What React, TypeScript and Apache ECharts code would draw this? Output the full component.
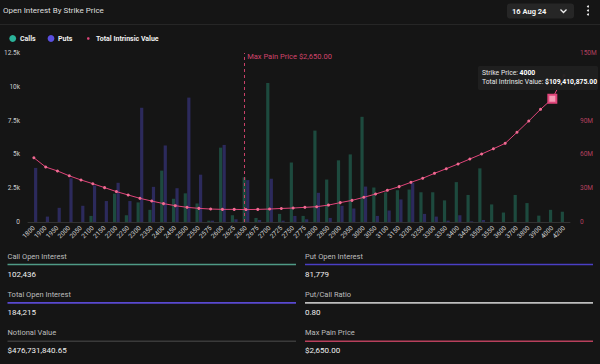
import React, { useEffect, useRef } from "react";
import * as echarts from "echarts";

const strikes = ["1800","1900","1950","2000","2050","2100","2150","2200","2250","2300","2350","2400","2450","2500","2550","2575","2600","2625","2650","2675","2700","2725","2750","2775","2800","2850","2900","2950","3000","3050","3100","3150","3200","3250","3300","3350","3400","3450","3500","3550","3600","3700","3800","3900","4000","4200"];

const callsOI = [0,0,0,0,0,450,0,2100,500,1450,900,3800,1720,2120,1370,100,5500,500,3300,300,10280,600,4400,450,6760,3140,4560,5000,7780,2550,2200,2350,2400,2200,2200,1600,2950,2000,3970,1300,700,2000,1400,470,900,760];

const putsOI = [4000,400,1050,3230,1200,2700,1550,2900,1550,8450,2600,5660,2500,9200,3500,100,5700,200,3100,150,3200,100,450,200,2160,300,1200,1000,2620,450,850,1670,2900,600,400,100,500,50,150,0,0,0,0,0,0,0];

// Total intrinsic value, in millions of USD
const intrinsicM = [57,48.8,45.3,41,37.3,34,30.5,27,24,21,18.6,16.3,14.5,13,12.1,11.5,11.2,11.2,11.0,11.2,11.5,12,12.4,13,13.6,15,17.2,19.2,21.9,24.8,28.1,31.4,35.2,38.8,43.2,47.3,51.5,55.9,60.3,65,69.8,79.6,89.6,100,109.41,130];

// right-axis tick hidden behind the tooltip in the reference
const hiddenRightTick = 120;
const maxPainStrike = "2650";
const highlightStrike = "4000";

const stats = [
  { label: "Call Open Interest", value: "102,436", color: "#4f9a86", col: 0, row: 0 },
  { label: "Put Open Interest", value: "81,779", color: "#4a3fc4", col: 1, row: 0 },
  { label: "Total Open Interest", value: "184,215", color: "#5949d0", col: 0, row: 1 },
  { label: "Put/Call Ratio", value: "0.80", color: "#bdbdbd", col: 1, row: 1 },
  { label: "Notional Value", value: "$476,731,840.65", color: "#3a3a3a", col: 0, row: 2 },
  { label: "Max Pain Price", value: "$2,650.00", color: "#b8405c", col: 1, row: 2 },
];

const FONT = "Roboto";
const BG = "#151515";
const CALL_BAR = "#1d4a3e";
const PUT_BAR = "#2c2a5c";
const LINE = "#e0457a";

export default function App() {
  const ref = useRef<HTMLDivElement>(null);
  useEffect(() => {
    const chart = echarts.init(ref.current!, null, { renderer: "svg" });

    const lineData = intrinsicM.map((v, i) =>
      strikes[i] === highlightStrike
        ? {
            value: v,
            symbol: "rect",
            symbolSize: 8,
            itemStyle: { color: "#f59ab5", borderColor: LINE, borderWidth: 2 },
          }
        : v
    );

    const statGraphics: any[] = [];
    stats.forEach((s) => {
      const x0 = s.col === 0 ? 7.5 : 305;
      const x1 = s.col === 0 ? 296 : 593;
      const yBase = 256 + s.row * 38.4;
      statGraphics.push({
        type: "text",
        x: x0,
        y: yBase,
        style: { text: s.label, fill: "#bdbdbd", font: `7.5px ${FONT}`, verticalAlign: "middle" },
      });
      statGraphics.push({
        type: "line",
        shape: { x1: x0, y1: yBase + 8.5, x2: x1, y2: yBase + 8.5 },
        style: { stroke: s.color, lineWidth: 1.6 },
      });
      statGraphics.push({
        type: "text",
        x: x0,
        y: yBase + 18,
        style: { text: s.value, fill: "#f0f0f0", font: `8px ${FONT}`, verticalAlign: "middle" },
      });
    });

    const option: any = {
      animation: false,
      backgroundColor: BG,
      textStyle: { fontFamily: FONT },
      grid: { left: 28, right: 30, top: 53, bottom: 142, containLabel: false },
      xAxis: {
        type: "category",
        data: strikes,
        axisLine: { lineStyle: { color: "#333" } },
        axisTick: { show: false },
        axisLabel: { rotate: 45, color: "#cfcfcf", fontSize: 6.5, interval: 0, margin: 5 },
      },
      yAxis: [
        {
          type: "value",
          min: 0,
          max: 12500,
          interval: 2500,
          splitLine: { show: false },
          axisLine: { show: false },
          axisTick: { show: false },
          axisLabel: {
            color: "#cfcfcf",
            fontSize: 6.5,
            margin: 8,
            formatter: (v: number) => (v === 0 ? "0" : `${v / 1000}k`),
          },
        },
        {
          type: "value",
          min: 0,
          max: 150,
          interval: 30,
          splitLine: { show: false },
          axisLine: { show: false },
          axisTick: { show: false },
          axisLabel: {
            color: "#b3405f",
            fontSize: 6.5,
            margin: 10,
            formatter: (v: number) => (v === 0 ? "0" : v === hiddenRightTick ? "" : `${v}M`),
          },
        },
      ],
      series: [
        {
          name: "Calls",
          type: "bar",
          data: callsOI,
          barWidth: 3.2,
          barGap: "10%",
          itemStyle: { color: CALL_BAR },
          markLine: {
            silent: true,
            symbol: ["none", "none"],
            label: { show: false },
            lineStyle: { color: "#c94068", type: [3, 3], width: 1 },
            data: [{ xAxis: maxPainStrike }],
          },
          markPoint: {
            silent: true,
            symbol: "circle",
            symbolSize: 0,
            data: [{ coord: [maxPainStrike, 12500] }],
            label: {
              show: true,
              position: "right",
              distance: 3,
              offset: [0, 3],
              formatter: "Max Pain Price $2,650.00",
              color: "#d2446c",
              fontSize: 7.5,
              fontFamily: FONT,
            },
          },
        },
        {
          name: "Puts",
          type: "bar",
          data: putsOI,
          barWidth: 3.2,
          itemStyle: { color: PUT_BAR },
        },
        {
          name: "Total Intrinsic Value",
          type: "line",
          yAxisIndex: 1,
          data: lineData,
          symbol: "circle",
          symbolSize: 3,
          showSymbol: true,
          itemStyle: { color: "#f06a92" },
          lineStyle: { color: LINE, width: 1 },
          z: 5,
        },
      ],
      graphic: {
        elements: [
          {
            type: "text",
            x: 3,
            y: 10,
            style: { text: "Open Interest By Strike Price", fill: "#dedede", font: `8px ${FONT}`, verticalAlign: "middle" },
          },
          {
            type: "rect",
            shape: { x: 507, y: 3.5, width: 67, height: 15, r: 3 },
            style: { fill: "#262626" },
          },
          {
            type: "text",
            x: 512,
            y: 11,
            style: { text: "16 Aug 24", fill: "#f2f2f2", font: `bold 7.5px ${FONT}`, verticalAlign: "middle" },
          },
          {
            type: "polyline",
            shape: { points: [[560.5, 9.5], [563.5, 12.5], [566.5, 9.5]] },
            style: { stroke: "#eeeeee", lineWidth: 1.3, fill: "none" },
          },
          { type: "circle", shape: { cx: 588, cy: 6.5, r: 1 }, style: { fill: "#eeeeee" } },
          { type: "circle", shape: { cx: 588, cy: 10.5, r: 1 }, style: { fill: "#eeeeee" } },
          { type: "circle", shape: { cx: 588, cy: 14.5, r: 1 }, style: { fill: "#eeeeee" } },
          {
            type: "line",
            shape: { x1: 0, y1: 24.5, x2: 600, y2: 24.5 },
            style: { stroke: "#262626", lineWidth: 1 },
          },
          // legend
          { type: "circle", shape: { cx: 12.7, cy: 38.5, r: 3.4 }, style: { fill: "#2bb39a" } },
          {
            type: "text",
            x: 20,
            y: 38.5,
            style: { text: "Calls", fill: "#f0f0f0", font: `bold 7px ${FONT}`, verticalAlign: "middle" },
          },
          { type: "circle", shape: { cx: 51, cy: 38.5, r: 3.4 }, style: { fill: "#5a4fe0" } },
          {
            type: "text",
            x: 58,
            y: 38.5,
            style: { text: "Puts", fill: "#f0f0f0", font: `bold 7px ${FONT}`, verticalAlign: "middle" },
          },
          { type: "circle", shape: { cx: 88.3, cy: 38.5, r: 1.3 }, style: { fill: LINE } },
          {
            type: "text",
            x: 96,
            y: 38.5,
            style: { text: "Total Intrinsic Value", fill: "#f0f0f0", font: `bold 7px ${FONT}`, verticalAlign: "middle" },
          },
          // tooltip
          {
            type: "rect",
            z: 100,
            shape: { x: 478, y: 66, width: 120, height: 24, r: 2 },
            style: { fill: "rgba(32,32,32,0.96)" },
          },
          {
            type: "text",
            z: 101,
            x: 482,
            y: 73,
            style: {
              text: "Strike Price: {b|4000}",
              fill: "#e8e8e8",
              font: `6.8px ${FONT}`,
              verticalAlign: "middle",
              rich: { b: { fontWeight: "bold", fontSize: 6.8, fill: "#ffffff", fontFamily: FONT } },
            },
          },
          {
            type: "text",
            z: 101,
            x: 482,
            y: 82,
            style: {
              text: "Total Intrinsic Value: {b|$109,410,875.00}",
              fill: "#e8e8e8",
              font: `6.8px ${FONT}`,
              verticalAlign: "middle",
              rich: { b: { fontWeight: "bold", fontSize: 6.8, fill: "#ffffff", fontFamily: FONT } },
            },
          },
          ...statGraphics,
        ],
      },
    };

    chart.setOption(option);
    return () => chart.dispose();
  }, []);

  return (
    <div style={{ position: "fixed", left: 0, top: 0, width: 600, height: 364, background: BG }}>
      <div ref={ref} style={{ width: 600, height: 364 }} />
    </div>
  );
}
